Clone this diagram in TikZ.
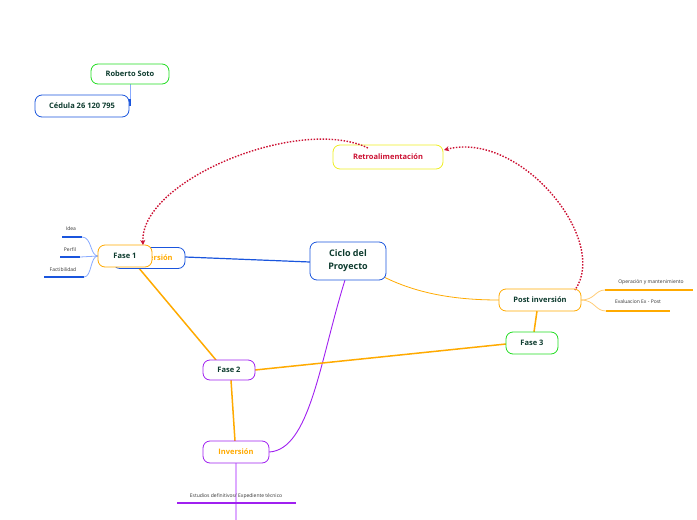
\documentclass[tikz,border=0pt]{standalone}
\usepackage{fontspec}
\setmainfont{Open Sans}
\usetikzlibrary{arrows.meta}
\definecolor{gr}{HTML}{22DD22}
\definecolor{bl}{HTML}{1A55DD}
\definecolor{lbl}{HTML}{88AAFF}
\definecolor{org}{HTML}{FFAA00}
\definecolor{lorg}{HTML}{FFCC77}
\definecolor{pur}{HTML}{A020F0}
\definecolor{lpur}{HTML}{DDAAFF}
\definecolor{ylw}{HTML}{EEEE22}
\definecolor{rd}{HTML}{CC1133}
\definecolor{dk}{HTML}{0D3B2E}
\begin{document}
\begin{tikzpicture}[x=1pt,y=-1pt,
 box/.style={draw,rounded corners=7pt,fill=white,line width=0.8pt,font=\bfseries\fontsize{7.5}{9}\selectfont,text=dk,inner sep=0pt},
 leaf/.style={font=\fontsize{5}{6}\selectfont,text=black!80,inner sep=1pt},
 fb/.style={rd,line width=1.4pt,dash pattern=on 1.5pt off 1.5pt,-{Stealth[length=5pt,width=5pt]}}]
\useasboundingbox (0,0) rectangle (697,520);
% connectors under nodes
\draw[lbl,line width=0.8pt] (130,84) -- (130,100);
\draw[bl,line width=1.5pt] (130,99) -- (130,106);
\draw[bl,line width=1.2pt] (185,257) -- (310,262);
\draw[org,line width=0.8pt] (384,277) .. controls (420,295) and (460,300) .. (499,300);
\draw[pur,line width=0.9pt] (345,280) .. controls (320,360) and (310,450) .. (269,452);
\draw[org,line width=1.5pt] (138,267) -- (216,360);
\draw[org,line width=1.5pt] (231,380) -- (235,441);
\draw[org,line width=1.5pt] (255,370) -- (506,344);
\draw[org,line width=1.5pt] (537,311) -- (534,332);
\draw[lpur,line width=1.5pt] (236,463) -- (236,520);
% leaves
\draw[bl,line width=1.5pt] (62,237) -- (82,237);
\draw[bl,line width=1.5pt] (60,257) -- (80,257);
\draw[bl,line width=1.5pt] (44,277) -- (84,277);
\draw[lbl,line width=0.8pt] (98,256) .. controls (90,256) and (92,237) .. (82,237);
\draw[lbl,line width=0.8pt] (98,256) -- (80,257);
\draw[lbl,line width=0.8pt] (98,256) .. controls (90,256) and (92,277) .. (84,277);
\draw[org,line width=1.5pt] (605,290) -- (693,290);
\draw[org,line width=1.5pt] (606,311) -- (670,311);
\draw[lorg,line width=0.8pt] (581,300) .. controls (595,300) and (595,290) .. (605,290);
\draw[lorg,line width=0.8pt] (581,300) .. controls (595,300) and (595,311) .. (606,311);
\draw[pur,line width=1.5pt] (177,503) -- (296,503);
\node[leaf] (idea) at (71,229) {Idea};
\node[leaf] (perfil) at (70,250) {Perfil};
\node[leaf] (fact) at (63,270) {Factibilidad};
\node[leaf] (op) at (651,282) {Operación y mantenimiento};
\node[leaf] (ev) at (638,302) {Evaluacion Ex - Post};
\node[leaf] (est) at (236,496) {Estudios definitivos/ Expediente técnico};
% nodes
\node[box,draw=gr,minimum width=78pt,minimum height=20pt] (rs) at (130,74) {Roberto Soto};
\node[box,draw=bl,minimum width=94pt,minimum height=22pt] (ced) at (82,106) {Cédula 26 120 795};
\node[box,draw=ylw,text=rd,minimum width=110pt,minimum height=24pt] (retro) at (388,157) {Retroalimentación};
\node[box,draw=bl,align=center,font=\bfseries\fontsize{9}{13}\selectfont,minimum width=76pt,minimum height=38pt] (ciclo) at (348,261) {Ciclo del\\Proyecto};
\node[box,draw=bl,text=org,minimum width=72pt,minimum height=21pt] (pre) at (149,258) {Preinversión};
\node[box,draw=org,minimum width=54pt,minimum height=22pt] (f1) at (125,256) {Fase 1};
\node[box,draw=pur,minimum width=52pt,minimum height=20pt] (f2) at (229,370) {Fase 2};
\node[box,draw=pur,text=org,minimum width=66pt,minimum height=22pt] (inv) at (236,452) {Inversión};
\node[box,draw=org,minimum width=82pt,minimum height=22pt] (post) at (540,300) {Post inversión};
\node[box,draw=gr,minimum width=52pt,minimum height=22pt] (f3) at (532,343) {Fase 3};
% feedback arrows
\draw[fb,{Stealth[length=5pt,width=5pt]}-] (143,245) .. controls (140,180) and (300,115) .. (368,148);
\draw[fb,{Stealth[length=5pt,width=5pt]}-] (444,150) .. controls (520,130) and (610,240) .. (575,290);
\end{tikzpicture}
\end{document}
